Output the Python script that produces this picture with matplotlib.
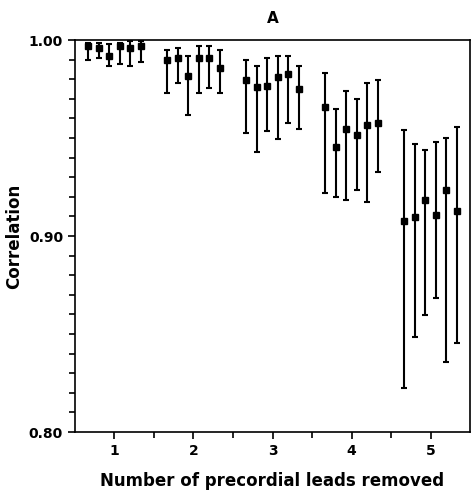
import numpy as np
import matplotlib
matplotlib.use("Agg")
import matplotlib.pyplot as plt
from matplotlib.ticker import MultipleLocator, FixedLocator, FormatStrFormatter

# mean correlation and error bar limits, 6 series per group of removed leads
groups = [1, 2, 3, 4, 5]
means = [
    [.997, .996, .992, .997, .996, .997],
    [.9898, .9910, .9818, .9910, .9910, .9859],
    [.9798, .9759, .9767, .9810, .9828, .9749],
    [.9657, .9456, .9548, .9517, .9568, .9577],
    [.9077, .9098, .9186, .9108, .9237, .9128],
]
upper = [
    [.9986, .9986, .9978, .9986, .9996, .9996],
    [.9949, .9958, .9918, .9969, .9969, .9949],
    [.9898, .9869, .9910, .9920, .9920, .9869],
    [.9830, .9648, .9740, .9699, .9779, .9798],
    [.9541, .9470, .9439, .9478, .9500, .9558],
]
lower = [
    [.9898, .9908, .9867, .9878, .9867, .9888],
    [.9728, .9779, .9618, .9728, .9757, .9728],
    [.9527, .9427, .9537, .9497, .9577, .9548],
    [.9218, .9198, .9184, .9235, .9175, .9327],
    [.8224, .8484, .8596, .8686, .8356, .8455],
]

fig = plt.figure(figsize=(4.74, 4.94), dpi=100)
ax = fig.add_axes([0.158, 0.1255, 0.834, 0.7935])

offsets = (np.arange(6) - 2.5) * 0.133
for g, m, u, l in zip(groups, means, upper, lower):
    m, u, l = np.array(m), np.array(u), np.array(l)
    ax.errorbar(g + offsets, m, yerr=[m - l, u - m], fmt="s", color="black",
                ms=5, elinewidth=1.5, capsize=2.5, capthick=1.5)

ax.set_xlim(0.5, 5.5)
ax.set_ylim(0.80, 1.00)
ax.set_xticks(groups)
ax.xaxis.set_minor_locator(FixedLocator([1.5, 2.5, 3.5, 4.5]))
ax.set_yticks([0.80, 0.90, 1.00])
ax.yaxis.set_major_formatter(FormatStrFormatter("%.2f"))
ax.yaxis.set_minor_locator(MultipleLocator(0.01))
ax.tick_params(which="both", direction="out", width=1.2)
ax.tick_params(which="major", length=5, labelsize=10)
ax.tick_params(which="minor", length=4)
for lab in ax.get_xticklabels() + ax.get_yticklabels():
    lab.set_fontweight("bold")
for s in ax.spines.values():
    s.set_linewidth(1.2)

ax.set_xlabel("Number of precordial leads removed", fontsize=12, fontweight="bold", labelpad=10)
ax.set_ylabel("Correlation", fontsize=12, fontweight="bold")
ax.set_title("A", fontsize=11, fontweight="bold", pad=12)

fig.savefig("out.png", dpi=100)
